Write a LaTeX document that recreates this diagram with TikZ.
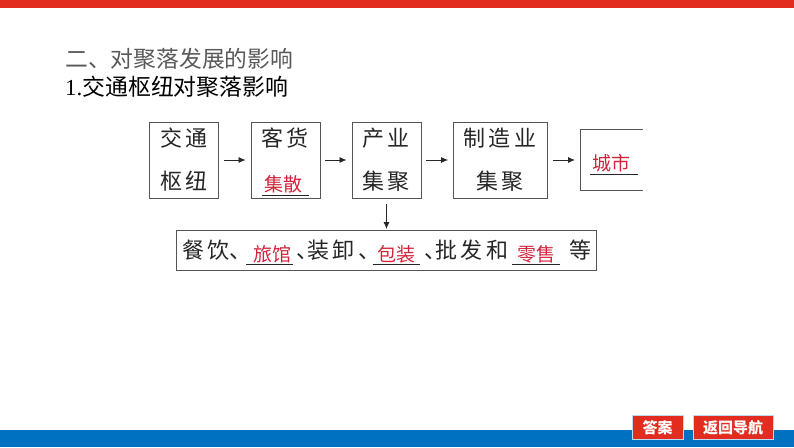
\documentclass[tikz,border=0pt]{standalone}
\usepackage{fontspec}
\usepackage{xcolor}
\usetikzlibrary{arrows.meta}
\setmainfont{Noto Sans CJK SC}
\newfontfamily\latinfont{Liberation Serif}
\newcommand{\dunhao}{\makebox[11pt][l]{、}}
\definecolor{barred}{HTML}{E12C1F}
\definecolor{barblue}{HTML}{0070C0}
\definecolor{inkred}{HTML}{D3243C}
\definecolor{boxgray}{HTML}{555555}
\definecolor{inkdark}{HTML}{262626}
\tikzset{
  box/.style={draw=boxgray, line width=0.9pt, inner sep=0pt},
  word/.style={inner sep=0pt, text=inkdark, font=\fontsize{22}{22}\selectfont},
  blank/.style={inner sep=0pt, text=inkred, font=\fontsize{19}{19}\selectfont},
  button/.style={fill=barred, draw=white!75!barblue, line width=0.7pt, inner sep=0pt, text=white, font=\fontsize{15}{15}\selectfont\bfseries},
  flow/.style={-{Latex[length=7pt, width=6pt]}, line width=0.8pt, black!85},
}
\begin{document}
\begin{tikzpicture}[x=1pt, y=-1pt]
    \useasboundingbox (0, 0) rectangle (794, 447);
    \fill[barred] (0, 0) rectangle (794, 7.5);
    \fill[barblue] (0, 430) rectangle (794, 447);

    \node[anchor=west, inner sep=0pt, text=black!65, font=\fontsize{22.8}{22.8}\selectfont](title) at (65, 59) {二、对聚落发展的影响};
    \node[anchor=west, inner sep=0pt, text=black, font=\fontsize{22.9}{22.9}\selectfont](subtitle) at (65, 87) {{\latinfont 1.}交通枢纽对聚落影响};

    \node[box, minimum width=69pt, minimum height=76pt](hub) at (184, 160) {};
    \node[box, minimum width=69pt, minimum height=76pt](cargo) at (285.5, 160) {};
    \node[box, minimum width=69pt, minimum height=76pt](industry) at (386.5, 160) {};
    \node[box, minimum width=94pt, minimum height=76pt](maker) at (500.5, 160) {};
    \node[box, minimum width=420pt, minimum height=40pt](trades) at (386.5, 250.5) {};
    \coordinate(cityin) at (580, 160);

    \node[word] at (184, 138) {交\,通};
    \node[word] at (184, 181) {枢\,纽};
    \node[word] at (285, 138) {客\,货};
    \node[blank](sanwords) at (283, 184) {集散};
    \node[word] at (386, 138) {产\,业};
    \node[word] at (386, 181) {集\,聚};
    \node[word] at (500, 138) {制\,造\,业};
    \node[word] at (500, 181) {集\,聚};
    \node[blank](citywords) at (611, 163) {城市};

    \node[word, anchor=west] at (182, 250) {餐\,饮\dunhao};
    \node[blank](hotel) at (272.5, 254) {旅馆};
    \node[word, anchor=west] at (296, 250) {\dunhao 装\,卸\hspace{4pt}\dunhao};
    \node[blank](pack) at (396.5, 254) {包装};
    \node[word, anchor=west] at (424, 250) {\dunhao 批\,发\,和};
    \node[blank](retail) at (536, 254) {零售};
    \node[word] at (580, 250) {等};

    % fill-in lines
    \draw[inkdark, thick] (261.5, 195.7)--(309, 195.7);
    \draw[inkdark, thick] (590, 174)--(638, 174);
    \draw[inkdark, thick] (246, 264.5)--(293, 264.5);
    \draw[inkdark, thick] (372.5, 264.5)--(420, 264.5);
    \draw[inkdark, thick] (512, 264.5)--(559.5, 264.5);

    % city box stays open on the right
    \draw[boxgray, line width=0.9pt] (643, 129)--(580, 129)--(580, 190.7)--(643, 190.7);

    \draw[flow, shorten <=5pt, shorten >=5pt] (hub)--(cargo);
    \draw[flow, shorten <=5pt, shorten >=5pt] (cargo)--(industry);
    \draw[flow, shorten <=5pt, shorten >=5pt] (industry)--(maker);
    \draw[flow, shorten <=5pt, shorten >=5pt] (maker)--(cityin);
    \draw[flow, shorten <=6pt, shorten >=1pt] (industry)--(trades);

    \node[button, minimum width=51pt, minimum height=23.5pt](answer) at (657.5, 427.5) {答案};
    \node[button, minimum width=80pt, minimum height=23.5pt](back) at (733, 427.5) {返回导航};
  \end{tikzpicture}
\end{document}
